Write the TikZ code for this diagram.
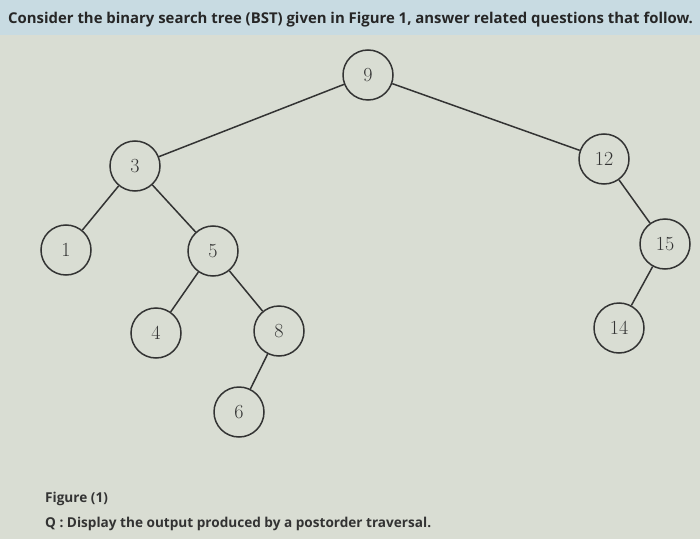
\documentclass[tikz,border=0pt]{standalone}
\usepackage{fontspec}
\newfontfamily\uifont{Open Sans}
\definecolor{bgc}{HTML}{D9DDD3}
\definecolor{headc}{HTML}{C8DBE2}
\definecolor{inkc}{HTML}{333333}
\tikzset{
  bstnode/.style={circle, draw=inkc, line width=1.5pt, minimum size=50pt, inner sep=0pt,
    font=\fontsize{20}{20}\selectfont, text=inkc},
  edge/.style={draw=inkc, line width=1.5pt},
  caption/.style={anchor=base west, inner sep=0pt, text=inkc, font=\uifont\bfseries\fontsize{13.6}{13.6}\selectfont}
}
\begin{document}
\begin{tikzpicture}[x=1pt,y=1pt]
\fill[bgc] (0,0) rectangle (700,539);
\fill[headc] (0,504) rectangle (700,539);
\useasboundingbox (0,0) rectangle (700,539);
\node[anchor=base west, inner sep=0pt, text=black!85, font=\uifont\bfseries\fontsize{14.9}{14.9}\selectfont] (title) at (8,515) {Consider the binary search tree (BST) given in Figure 1, answer related questions that follow.};
\node[bstnode] (n9) at (368,464) {9};
\node[bstnode] (n3) at (135,373) {3};
\node[bstnode] (n12) at (604,380) {12};
\node[bstnode] (n1) at (66,289) {1};
\node[bstnode] (n5) at (213,288) {5};
\node[bstnode] (n15) at (665,295) {15};
\node[bstnode] (n4) at (156,206) {4};
\node[bstnode] (n8) at (279,208) {8};
\node[bstnode] (n14) at (619,211) {14};
\node[bstnode] (n6) at (239,127) {6};
\draw[edge] (n9) -- (n3);
\draw[edge] (n9) -- (n12);
\draw[edge] (n3) -- (n1);
\draw[edge] (n3) -- (n5);
\draw[edge] (n5) -- (n4);
\draw[edge] (n5) -- (n8);
\draw[edge] (n8) -- (n6);
\draw[edge] (n12) -- (n15);
\draw[edge] (n15) -- (n14);
\node[caption] (fig) at (45,37) {Figure (1)};
\node[caption] (q) at (45,12) {Q : Display the output produced by a postorder traversal.};
\end{tikzpicture}
\end{document}
